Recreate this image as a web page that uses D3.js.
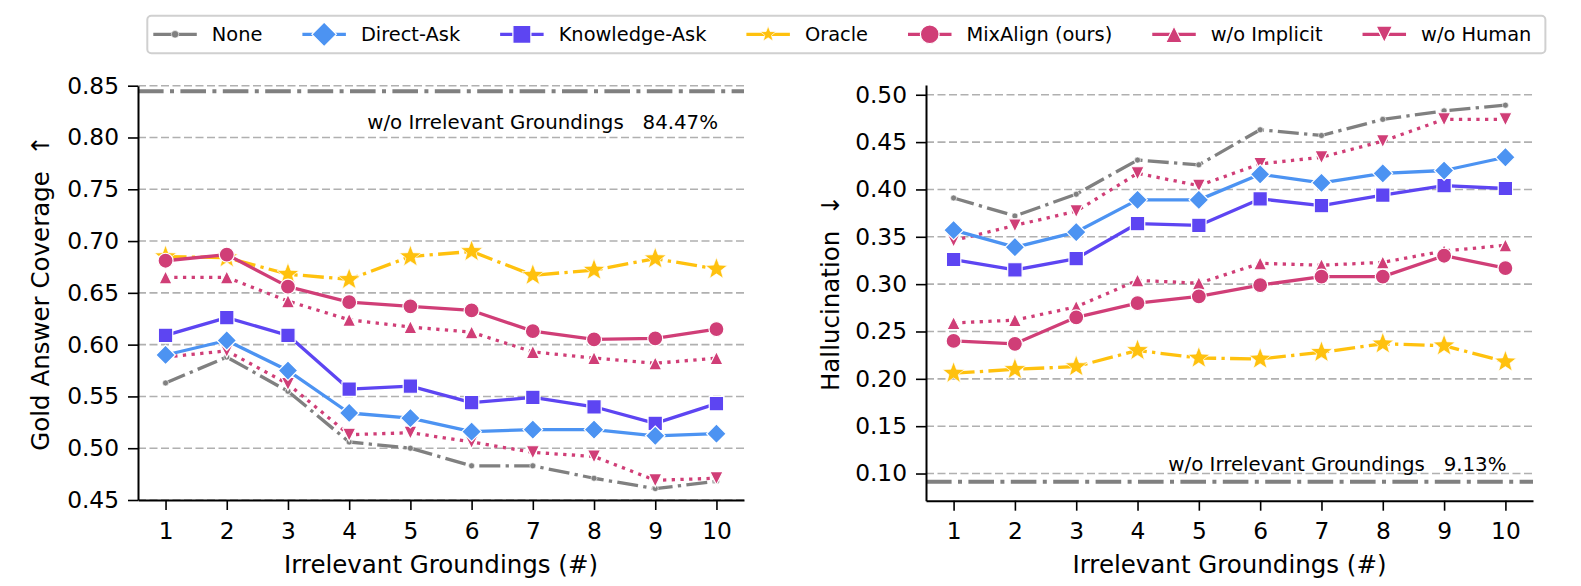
<!DOCTYPE html>
<html><head><meta charset="utf-8">
<script src="https://cdn.jsdelivr.net/npm/d3@7"></script>
<style>
body{margin:0;background:#fff;}
svg{font-family:"DejaVu Sans",sans-serif;display:block;}
</style></head><body>
<svg id="chart" width="1581" height="586"></svg>
<script>
// ---------- data ----------
const xValues = [1,2,3,4,5,6,7,8,9,10];
const seriesNames = ["None","Direct-Ask","Knowledge-Ask","Oracle","MixAlign (ours)","w/o Implicit","w/o Human"];

// Gold Answer Coverage (left)
const covNone       = [0.563,0.588,0.555,0.506,0.500,0.483,0.483,0.471,0.461,0.468];
const covDirect     = [0.590,0.604,0.575,0.534,0.529,0.516,0.518,0.518,0.512,0.514];
const covKnowledge  = [0.609,0.626,0.609,0.557,0.560,0.544,0.549,0.540,0.524,0.543];
const covOracle     = [0.685,0.684,0.668,0.663,0.685,0.690,0.667,0.672,0.683,0.673];
const covMixAlign   = [0.681,0.687,0.656,0.641,0.637,0.633,0.613,0.605,0.606,0.615];
const covNoImplicit = [0.665,0.665,0.642,0.624,0.617,0.612,0.593,0.587,0.582,0.587];
const covNoHuman    = [0.588,0.594,0.562,0.513,0.515,0.506,0.496,0.492,0.469,0.471];
const covBaseline   = 0.8447;
const covBaselineLabel = "w/o Irrelevant Groundings   84.47%";
const covTicks = [0.45,0.50,0.55,0.60,0.65,0.70,0.75,0.80,0.85];

// Hallucination (right)
const halNone       = [0.391,0.372,0.395,0.431,0.426,0.463,0.457,0.474,0.483,0.489];
const halDirect     = [0.357,0.339,0.355,0.389,0.389,0.416,0.407,0.417,0.420,0.434];
const halKnowledge  = [0.326,0.315,0.327,0.364,0.362,0.390,0.383,0.394,0.404,0.401];
const halOracle     = [0.206,0.210,0.213,0.230,0.222,0.221,0.228,0.237,0.235,0.218];
const halMixAlign   = [0.240,0.237,0.265,0.280,0.287,0.299,0.308,0.308,0.330,0.317];
const halNoImplicit = [0.259,0.262,0.276,0.304,0.301,0.322,0.320,0.323,0.335,0.341];
const halNoHuman    = [0.346,0.362,0.377,0.417,0.404,0.427,0.434,0.451,0.474,0.474];
const halBaseline   = 0.0913;
const halBaselineLabel = "w/o Irrelevant Groundings   9.13%";
const halTicks = [0.10,0.15,0.20,0.25,0.30,0.35,0.40,0.45,0.50];

const xLabel = "Irrelevant Groundings (#)";
const covLabel = "Gold Answer Coverage  \u2191";
const halLabel = "Hallucination  \u2193";

// ---------- styles ----------
const styles = {
  "None":            {color:"#808080", dash:"21,5.3,3.3,5.3", marker:"dot",     size:3},
  "Direct-Ask":      {color:"#4c93f2", dash:null,             marker:"diamond", size:9.8},
  "Knowledge-Ask":   {color:"#5d45f2", dash:null,             marker:"square",  size:7.2},
  "Oracle":          {color:"#ffc10e", dash:"21,5.3,3.3,5.3", marker:"star",    size:11.5},
  "MixAlign (ours)": {color:"#d03e77", dash:null,             marker:"circle",  size:7.5},
  "w/o Implicit":    {color:"#d03e77", dash:"3.3,5.4",        marker:"triUp",   size:6.6},
  "w/o Human":       {color:"#d03e77", dash:"3.3,5.4",        marker:"triDown", size:6.6}
};
const drawOrder = ["None","w/o Human","w/o Implicit","Oracle","Knowledge-Ask","Direct-Ask","MixAlign (ours)"];

function markerPath(type, r){
  if(type==="circle"||type==="dot"){
    return `M${r},0A${r},${r} 0 1,1 ${-r},0A${r},${r} 0 1,1 ${r},0Z`;
  }
  if(type==="square") return `M${-r},${-r}H${r}V${r}H${-r}Z`;
  if(type==="diamond") return `M0,${-r}L${r},0L0,${r}L${-r},0Z`;
  if(type==="triUp") return `M0,${-r}L${r},${r}L${-r},${r}Z`;
  if(type==="triDown") return `M0,${r}L${r},${-r}L${-r},${-r}Z`;
  if(type==="star"){
    const pts=[]; const inner=r*0.42;
    for(let i=0;i<10;i++){
      const rr = i%2===0 ? r : inner;
      const a = -Math.PI/2 + i*Math.PI/5;
      pts.push([rr*Math.cos(a), rr*Math.sin(a)]);
    }
    return "M"+pts.map(p=>p[0].toFixed(2)+","+p[1].toFixed(2)).join("L")+"Z";
  }
}
function edgeWidth(m){ return m==="dot" ? 0.6 : (m==="star" ? 0.7 : 1.2); }

const svg = d3.select("#chart");

function drawPanel(cfg){
  const x = d3.scaleLinear().domain([0.55,10.45]).range([cfg.left, cfg.right]);
  const y = d3.scaleLinear().domain(cfg.yDomain).range([cfg.bottom, cfg.top]);
  const g = svg.append("g");

  // grid
  g.append("g").selectAll("line").data(cfg.ticks).join("line")
    .attr("x1", cfg.left).attr("x2", cfg.right)
    .attr("y1", d=>y(d)).attr("y2", d=>y(d))
    .attr("stroke","#b0b0b0").attr("stroke-width",1.6)
    .attr("stroke-dasharray","8,3.5");

  // baseline
  g.append("line")
    .attr("x1", cfg.left).attr("x2", cfg.right)
    .attr("y1", y(cfg.baseline)).attr("y2", y(cfg.baseline))
    .attr("stroke","#808080").attr("stroke-width",4)
    .attr("stroke-dasharray","25.6,6.4,4,6.4");

  g.append("text")
    .attr("x", cfg.annX).attr("y", y(cfg.baseline) + cfg.annDy)
    .attr("text-anchor","end")
    .style("white-space","pre")
    .attr("font-size","19.8px").attr("fill","#000")
    .text(cfg.baselineLabel);

  // series
  drawOrder.forEach(name=>{
    const st = styles[name];
    const vals = cfg.series[name];
    const pts = xValues.map((xv,i)=>[x(xv), y(vals[i])]);
    g.append("path")
      .attr("d", d3.line()(pts))
      .attr("fill","none").attr("stroke", st.color)
      .attr("stroke-width",3.3)
      .attr("stroke-linejoin","round")
      .attr("stroke-dasharray", st.dash);
    g.append("g").selectAll("path").data(pts).join("path")
      .attr("transform", d=>`translate(${d[0]},${d[1]})`)
      .attr("d", markerPath(st.marker, st.size))
      .attr("fill", st.color)
      .attr("stroke","#fff")
      .attr("stroke-width", edgeWidth(st.marker))
      .attr("stroke-linejoin","miter");
  });

  // axes
  const yAxis = d3.axisLeft(y).tickValues(cfg.ticks).tickFormat(d3.format(".2f"))
    .tickSize(10).tickSizeOuter(0).tickPadding(9);
  const ya = g.append("g").attr("transform",`translate(${cfg.left},0)`).call(yAxis);
  const xAxis = d3.axisBottom(x).tickValues(xValues).tickFormat(d3.format("d"))
    .tickSize(10).tickSizeOuter(0).tickPadding(12);
  const xa = g.append("g").attr("transform",`translate(0,${cfg.bottom})`).call(xAxis);
  [ya,xa].forEach(a=>{
    a.select(".domain").attr("stroke","#000").attr("stroke-width",2);
    a.selectAll(".tick line").attr("stroke","#000").attr("stroke-width",1.6);
    a.selectAll(".tick text").attr("font-size","23.3px").attr("fill","#000")
      .attr("font-family","DejaVu Sans, sans-serif");
  });

  // labels
  g.append("text")
    .attr("x",(cfg.left+cfg.right)/2).attr("y",573)
    .attr("text-anchor","middle").attr("font-size","24.5px")
    .text(xLabel);
  g.append("text")
    .attr("transform",`translate(${cfg.yLabelX},${(cfg.top+cfg.bottom)/2}) rotate(-90)`)
    .attr("text-anchor","middle").attr("font-size","24.5px")
    .style("white-space","pre")
    .text(cfg.yLabel);
}

drawPanel({
  left:138, right:744, top:85.7, bottom:500,
  yDomain:[0.45,0.85], ticks:covTicks,
  baseline:covBaseline, baselineLabel:covBaselineLabel, annX:718, annDy:38,
  yLabel:covLabel, yLabelX:48.5,
  series:{"None":covNone,"Direct-Ask":covDirect,"Knowledge-Ask":covKnowledge,"Oracle":covOracle,
          "MixAlign (ours)":covMixAlign,"w/o Implicit":covNoImplicit,"w/o Human":covNoHuman}
});
drawPanel({
  left:926, right:1533, top:85, bottom:500.7,
  yDomain:[0.0713,0.5103], ticks:halTicks,
  baseline:halBaseline, baselineLabel:halBaselineLabel, annX:1506.5, annDy:-10.6,
  yLabel:halLabel, yLabelX:838.5,
  series:{"None":halNone,"Direct-Ask":halDirect,"Knowledge-Ask":halKnowledge,"Oracle":halOracle,
          "MixAlign (ours)":halMixAlign,"w/o Implicit":halNoImplicit,"w/o Human":halNoHuman}
});

// ---------- legend ----------
const leg = svg.append("g");
const legBox = leg.append("rect");
const legFont = 19.4, handleLen = 43.5, handleGap = 15, colGap = 40, legY = 34.3;
let cx = 153.3;
seriesNames.forEach(name=>{
  const st = styles[name];
  leg.append("line").attr("x1",cx).attr("x2",cx+handleLen).attr("y1",legY).attr("y2",legY)
    .attr("stroke",st.color).attr("stroke-width",3.3);
  const scale = st.marker==="star" ? 0.72 : 1.25;
  leg.append("path").attr("transform",`translate(${cx+handleLen/2},${legY})`)
    .attr("d", markerPath(st.marker, st.size*scale))
    .attr("fill",st.color).attr("stroke","#fff").attr("stroke-width", edgeWidth(st.marker));
  const t = leg.append("text").attr("x",cx+handleLen+handleGap).attr("y",legY+6.8)
    .attr("font-size",legFont+"px").text(name);
  const w = t.node().getComputedTextLength();
  cx = cx + handleLen + handleGap + w + colGap;
});
const legRight = cx - colGap + 14;
legBox.attr("x",147.3).attr("y",15.7).attr("width",legRight-147.3).attr("height",37.6)
  .attr("rx",4).attr("fill","#fff").attr("stroke","#d0d0d0").attr("stroke-width",2);
</script>
</body></html>
